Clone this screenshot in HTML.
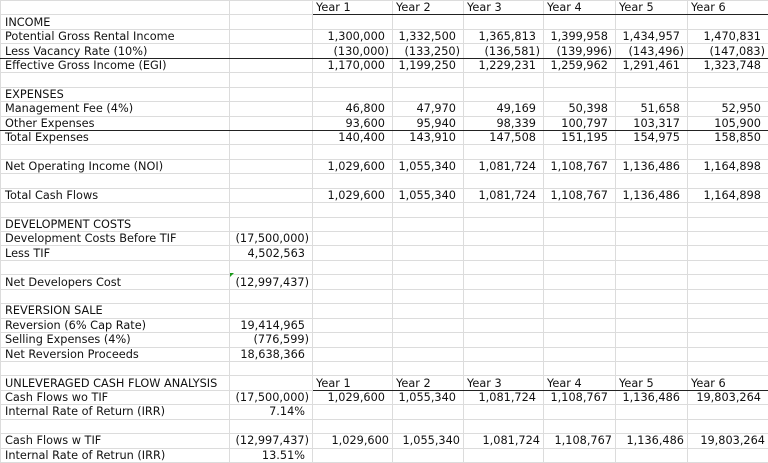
<!DOCTYPE html>
<html><head><meta charset="utf-8"><style>
body{margin:0;background:#fff;width:768px;height:462px;overflow:hidden}
table{border-collapse:collapse;table-layout:fixed;width:768px;font-family:"DejaVu Sans","Liberation Sans",sans-serif;font-size:11.3px;color:#111;position:absolute;left:0;top:0}
td{border:1px solid #dcdcdc;height:13.44px;padding:0;white-space:nowrap;overflow:visible;line-height:13px}
td.l{padding-left:4px}
td.y{padding-left:3px}
td.n{text-align:right;padding-right:7px}
td.m{text-align:right;padding-right:3px}
tr.b td{border-bottom:1px solid #222}
td.b{border-bottom:1px solid #222}
.tri{position:absolute;left:230px;top:273px;width:0;height:0;border-top:4px solid #1a9a1a;border-right:4px solid transparent}
</style></head><body>
<table>
<colgroup><col style="width:229px"><col style="width:83px"><col style="width:80px"><col style="width:71px"><col style="width:80px"><col style="width:72px"><col style="width:72px"><col style="width:81px"></colgroup>
<tr><td></td><td></td><td class="y b">Year 1</td><td class="y b">Year 2</td><td class="y b">Year 3</td><td class="y b">Year 4</td><td class="y b">Year 5</td><td class="y b">Year 6</td></tr>
<tr><td class="l">INCOME</td><td></td><td></td><td></td><td></td><td></td><td></td><td></td></tr>
<tr><td class="l">Potential Gross Rental Income</td><td></td><td class="n">1,300,000</td><td class="n">1,332,500</td><td class="n">1,365,813</td><td class="n">1,399,958</td><td class="n">1,434,957</td><td class="n">1,470,831</td></tr>
<tr class="b"><td class="l">Less Vacancy Rate (10%)</td><td></td><td class="m">(130,000)</td><td class="m">(133,250)</td><td class="m">(136,581)</td><td class="m">(139,996)</td><td class="m">(143,496)</td><td class="m">(147,083)</td></tr>
<tr><td class="l">Effective Gross Income (EGI)</td><td></td><td class="n">1,170,000</td><td class="n">1,199,250</td><td class="n">1,229,231</td><td class="n">1,259,962</td><td class="n">1,291,461</td><td class="n">1,323,748</td></tr>
<tr><td></td><td></td><td></td><td></td><td></td><td></td><td></td><td></td></tr>
<tr><td class="l">EXPENSES</td><td></td><td></td><td></td><td></td><td></td><td></td><td></td></tr>
<tr><td class="l">Management Fee (4%)</td><td></td><td class="n">46,800</td><td class="n">47,970</td><td class="n">49,169</td><td class="n">50,398</td><td class="n">51,658</td><td class="n">52,950</td></tr>
<tr class="b"><td class="l">Other Expenses</td><td></td><td class="n">93,600</td><td class="n">95,940</td><td class="n">98,339</td><td class="n">100,797</td><td class="n">103,317</td><td class="n">105,900</td></tr>
<tr><td class="l">Total Expenses</td><td></td><td class="n">140,400</td><td class="n">143,910</td><td class="n">147,508</td><td class="n">151,195</td><td class="n">154,975</td><td class="n">158,850</td></tr>
<tr><td></td><td></td><td></td><td></td><td></td><td></td><td></td><td></td></tr>
<tr><td class="l">Net Operating Income (NOI)</td><td></td><td class="n">1,029,600</td><td class="n">1,055,340</td><td class="n">1,081,724</td><td class="n">1,108,767</td><td class="n">1,136,486</td><td class="n">1,164,898</td></tr>
<tr><td></td><td></td><td></td><td></td><td></td><td></td><td></td><td></td></tr>
<tr><td class="l">Total Cash Flows</td><td></td><td class="n">1,029,600</td><td class="n">1,055,340</td><td class="n">1,081,724</td><td class="n">1,108,767</td><td class="n">1,136,486</td><td class="n">1,164,898</td></tr>
<tr><td></td><td></td><td></td><td></td><td></td><td></td><td></td><td></td></tr>
<tr><td class="l">DEVELOPMENT COSTS</td><td></td><td></td><td></td><td></td><td></td><td></td><td></td></tr>
<tr><td class="l">Development Costs Before TIF</td><td class="m">(17,500,000)</td><td></td><td></td><td></td><td></td><td></td><td></td></tr>
<tr><td class="l">Less TIF</td><td class="n">4,502,563</td><td></td><td></td><td></td><td></td><td></td><td></td></tr>
<tr><td></td><td></td><td></td><td></td><td></td><td></td><td></td><td></td></tr>
<tr><td class="l">Net Developers Cost</td><td class="m">(12,997,437)</td><td></td><td></td><td></td><td></td><td></td><td></td></tr>
<tr><td></td><td></td><td></td><td></td><td></td><td></td><td></td><td></td></tr>
<tr><td class="l">REVERSION SALE</td><td></td><td></td><td></td><td></td><td></td><td></td><td></td></tr>
<tr><td class="l">Reversion (6% Cap Rate)</td><td class="n">19,414,965</td><td></td><td></td><td></td><td></td><td></td><td></td></tr>
<tr><td class="l">Selling Expenses (4%)</td><td class="m">(776,599)</td><td></td><td></td><td></td><td></td><td></td><td></td></tr>
<tr><td class="l">Net Reversion Proceeds</td><td class="n">18,638,366</td><td></td><td></td><td></td><td></td><td></td><td></td></tr>
<tr><td></td><td></td><td></td><td></td><td></td><td></td><td></td><td></td></tr>
<tr><td class="l">UNLEVERAGED CASH FLOW ANALYSIS</td><td></td><td class="y b">Year 1</td><td class="y b">Year 2</td><td class="y b">Year 3</td><td class="y b">Year 4</td><td class="y b">Year 5</td><td class="y b">Year 6</td></tr>
<tr><td class="l">Cash Flows wo TIF</td><td class="m">(17,500,000)</td><td class="n">1,029,600</td><td class="n">1,055,340</td><td class="n">1,081,724</td><td class="n">1,108,767</td><td class="n">1,136,486</td><td class="n">19,803,264</td></tr>
<tr><td class="l">Internal Rate of Return (IRR)</td><td class="n">7.14%</td><td></td><td></td><td></td><td></td><td></td><td></td></tr>
<tr><td></td><td></td><td></td><td></td><td></td><td></td><td></td><td></td></tr>
<tr><td class="l">Cash Flows w TIF</td><td class="m">(12,997,437)</td><td class="m">1,029,600</td><td class="m">1,055,340</td><td class="m">1,081,724</td><td class="m">1,108,767</td><td class="m">1,136,486</td><td class="m">19,803,264</td></tr>
<tr><td class="l">Internal Rate of Retrun (IRR)</td><td class="n">13.51%</td><td></td><td></td><td></td><td></td><td></td><td></td></tr>
</table>
<div class="tri"></div>
</body></html>
